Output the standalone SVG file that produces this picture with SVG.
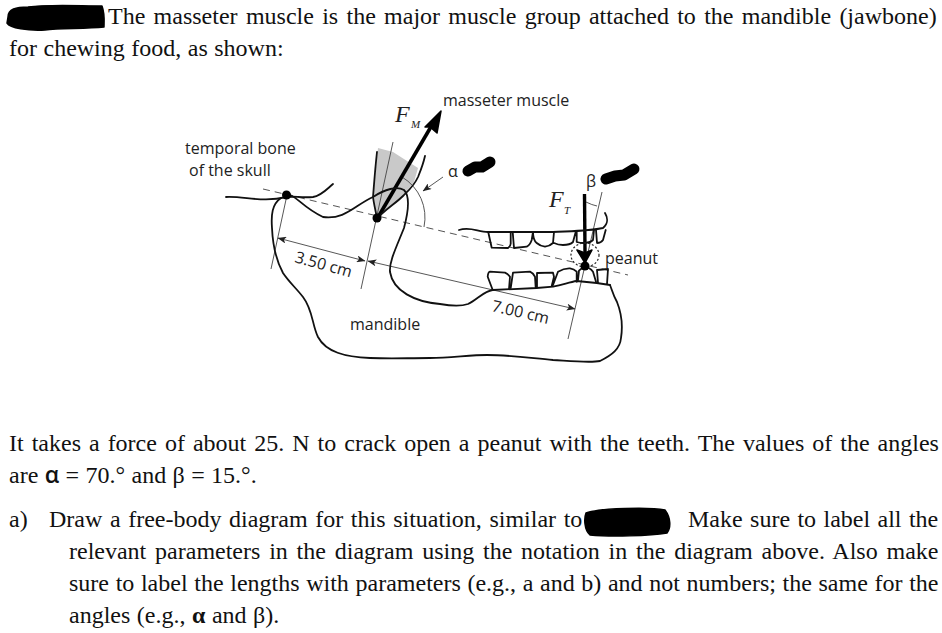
<svg xmlns="http://www.w3.org/2000/svg" width="942" height="633" viewBox="0 0 942 633">
<style>
.b{font-family:"Liberation Serif","Times New Roman",serif;font-size:24px;fill:#111}
.l{font-family:"Open Sans","Noto Sans",sans-serif;font-size:16px;fill:#222}
.i{font-family:"Liberation Serif",serif;font-style:italic;fill:#222}
.c{fill:none;stroke:#111;stroke-width:1.8;stroke-linecap:round;stroke-linejoin:round}
.t{fill:none;stroke:#444;stroke-width:.9}
.d{fill:none;stroke:#555;stroke-width:1;stroke-dasharray:7 5}
.k{fill:#000;stroke:#000;stroke-width:1.5;stroke-linejoin:round}
.r{fill:none;stroke:#000;stroke-width:11;stroke-linecap:round;stroke-linejoin:round}
</style>
<defs>
<marker id="a" viewBox="0 0 10 8" refX="9.5" refY="4" markerWidth="9" markerHeight="7" markerUnits="userSpaceOnUse" orient="auto-start-reverse"><path d="M0 0L10 4L0 8L2.500 4Z" fill="#222"/></marker>
</defs>
<rect width="942" height="633" fill="#fff"/>
<g id="question-top">
<path class="k" d="M8 17C8 9 16 7 28 7C50 4 80 6 102 6C105 14 104 22 104 27C85 29 60 28 45 30C28 31 10 28 7 23Z"/>
<text class="b" x="108" y="24" word-spacing="2.300">The masseter muscle is the major muscle group attached to the mandible (jawbone)</text>
<text class="b" x="9" y="56" word-spacing=".5">for chewing food, as shown:</text>
</g>
<g id="diagram">
<path id="muscle" d="M378 148L393 152L418 168L414 182L403 196L384 212L377 219L373 197Z" fill="#c9c9c9"/>
<path class="d" d="M263 189L628 275"/>
<g id="connectors">
<path class="t" d="M393 142L361 289M287 195L271 269M602 192L568 339"/>
<path class="t" marker-start="url(#a)" marker-end="url(#a)" d="M278 238L365 261"/>
<path class="t" marker-start="url(#a)" marker-end="url(#a)" d="M368 261L575 309"/>
<path class="t" d="M402 177A47 47 0 0 1 424 227M586 202Q592 205 597 206"/>
<path class="t" marker-end="url(#a)" d="M443 177L423 191"/>
<path d="M377 219L432 125" stroke="#000" stroke-width="3.600" fill="none"/>
<path class="k" d="M441 111L437 133L430 127L425 127Z"/>
<path d="M584.500 194L585 252" stroke="#000" stroke-width="3.400" fill="none"/>
<path class="k" d="M585 263L577 250L585 253L592 250Z"/>
</g>
<g id="jaw">
<path class="c" d="M226 197C245 196 262 203 287 197C296 196 300 198 313 197C321 196 327 189 333 184"/>
<path class="c" d="M281 198C272 204 271 215 272 228C273 250 277 262 283 273C289 282 296 288 303 297C313 310 312 325 318 337C326 352 345 357 370 358C395 359 405 358 430 358C450 358 470 355 487 355C510 355 530 358 553 360C570 361 590 363 600 361C612 355 620 349 621 338C623 325 621 312 617 302C613 295 612 290 610 285"/>
<path class="c" d="M290 195C297 197 304 208 323 217C345 220 355 205 373 197C385 189 397 186 404 190C411 197 408 213 404 228C396 248 389 262 390 272C393 291 415 302 440 304C452 306 462 306 468 304C478 299 484 291 492.700 290L536.700 288L553 286.700C565 284 570 282 576.700 281L596.700 283L610 285"/>
<path class="c" d="M377 152C375 170 374 185 373 197C374 205 376 212 377 219"/>
<path class="c" d="M425 156C423 165 420 172 418 177C414 186 409 190 403 196C395 204 384 210 377 219"/>
<path class="c" d="M459 230C470 226 478 232 488 232L553 232C575 231 590 231 603 228C608 224 608 218 605 213"/>
<path class="c" d="M488.300 232.300L491.700 247.700L508 248Q511 246 510.700 243L510.700 232M512.700 232L514 248L526.700 246.700Q530 245 531.700 240L533 232M533 232Q533 240 536.700 243Q540 246 545 246.700Q550 246 553 243L554 232M554 243Q558 245 563 245Q570 245 573 242L575.700 232M576.700 232L576.700 242Q580 243 583 243Q590 243 593 240L594 230M596 230L597 243Q601 243 603 240L605.700 230"/>
<path class="c" d="M492.700 290L487.700 276.700Q488 272 490 271.700L505 272.700Q508 274 510 276.700L509 289M510.700 288L513 272.700L530 271.700Q533 273 535 276.700L535.700 288M537 287L537 273L553 272.700L554 276.700L551.700 286M553 285L558 271.700Q564 268 570 268.300Q574 269 576.700 271.700L576.700 281.700M578 280L579 270.700Q584 266 587 267Q591 269 593 271.700L596 281.700M598 283L597 270L608 269L607 284"/>
<ellipse cx="585" cy="255" rx="14" ry="12" fill="none" stroke="#222" stroke-width="1.200" stroke-dasharray="2 2"/>
<circle cx="286.500" cy="195" r="4.500" fill="#000"/>
<circle cx="377" cy="218" r="4.500" fill="#000"/>
<circle cx="585" cy="266" r="4.500" fill="#000"/>
</g>
<g id="redactions">
<path class="r" d="M468 171L475 167L482 167L490 162"/>
<path class="r" d="M606 179L615 176L624 175L634 169"/>
</g>
<g id="labels">
<text class="l" x="443" y="106">masseter muscle</text>
<text class="l" x="185" y="154">temporal bone</text>
<text class="l" x="189" y="176">of the skull</text>
<text class="l" x="350" y="330">mandible</text>
<text class="l" x="605" y="264">peanut</text>
<text class="l" x="448" y="177">α</text>
<text class="l" x="586" y="187">β</text>
<text class="l" transform="translate(294 262) rotate(15.500)">3.50 cm</text>
<text class="l" transform="translate(491 311) rotate(13)">7.00 cm</text>
<text class="i" x="395" y="122" font-size="24">F</text>
<text class="i" x="411" y="128" font-size="11">M</text>
<text class="i" x="549" y="207" font-size="24">F</text>
<text class="i" x="564" y="214" font-size="11">T</text>
</g>
</g>
<g id="question-bottom">
<text class="b" x="9" y="451" word-spacing="2">It takes a force of about 25. N to crack open a peanut with the teeth. The values of the angles</text>
<text class="b" x="9" y="483" word-spacing=".4">are <tspan font-family="Open Sans" font-weight="600" font-size="23">α</tspan> = 70.° and β = 15.°.</text>
<text class="b" x="9" y="527">a)</text>
<text class="b" x="49" y="527" word-spacing="1.600">Draw a free-body diagram for this situation, similar to</text>
<path class="k" d="M586 513C600 508 650 507 665 510C671 518 671 528 667 533C650 536 610 537 590 535C584 530 584 518 586 513Z"/>
<text class="b" x="688" y="527" word-spacing="1.400">Make sure to label all the</text>
<text class="b" x="69" y="559" word-spacing="2.800">relevant parameters in the diagram using the notation in the diagram above. Also make</text>
<text class="b" x="69" y="591" word-spacing=".65">sure to label the lengths with parameters (e.g., a and b) and not numbers; the same for the</text>
<text class="b" x="69" y="623" word-spacing=".5">angles (e.g., <tspan font-weight="bold">α</tspan> and β).</text>
</g>
</svg>
